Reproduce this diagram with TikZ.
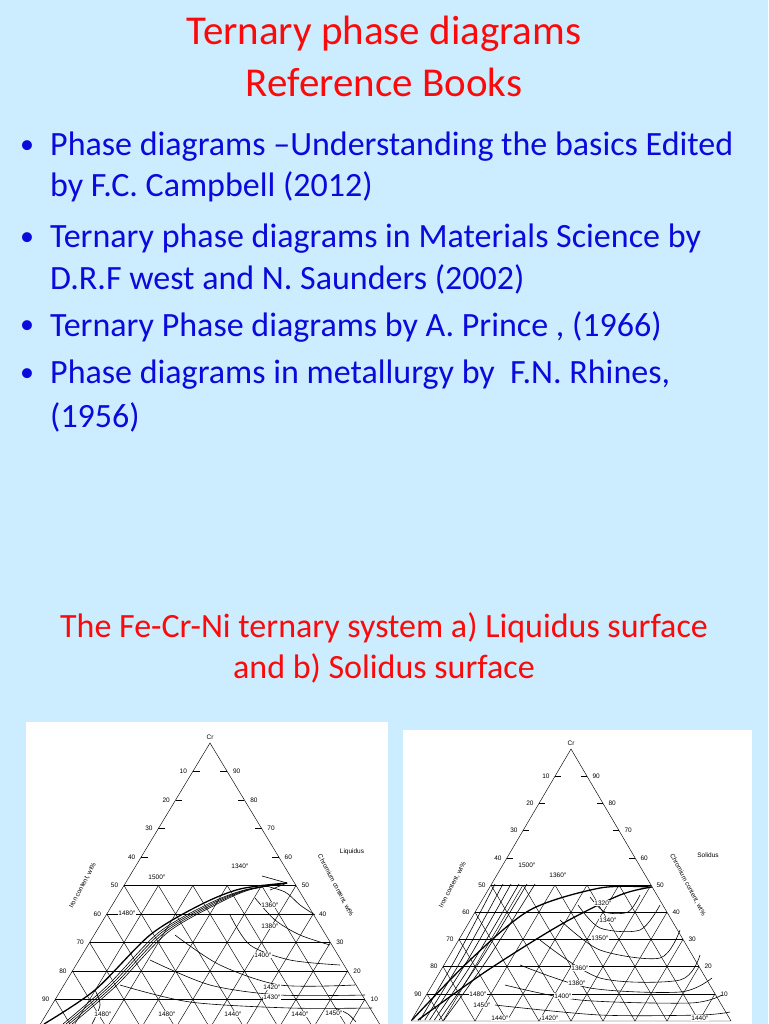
\documentclass[tikz,border=0pt]{standalone}
\usepackage{fontspec}
\setmainfont{Carlito}
\newfontfamily\lab{Liberation Sans}
\definecolor{bg}{RGB}{204,236,255}
\definecolor{tred}{RGB}{250,10,10}
\definecolor{tblue}{RGB}{10,10,220}
\tikzset{
 ttl/.style={text=tred,font=\fontsize{41}{48}\selectfont,anchor=center},
 captext/.style={text=tred,font=\fontsize{34}{40}\selectfont,anchor=center},
 bul/.style={text=tblue,font=\fontsize{34}{40}\selectfont,anchor=west,inner sep=0},
 tl/.style={font=\lab\fontsize{6.5}{7}\selectfont,inner sep=0.5pt},
 grid/.style={line width=0.45pt},
 curve/.style={line width=0.6pt},
 thick curve/.style={line width=1.3pt}
}
\newcommand{\ternary}[5]{% shift x,y ; half width ; height ; tag
\begin{scope}[shift={(#1,#2)},x={(#3pt,0)},y={(0,-#4pt)}]
 \draw[grid] (0,0) -- (-1,1) -- (1,1) -- cycle;
 \foreach \t in {0.5,0.6,0.7,0.8,0.9} \draw[grid] (-\t,\t) -- (\t,\t);
 \begin{scope}
  \clip (-0.5,0.5) -- (0.5,0.5) -- (1,1) -- (-1,1) -- cycle;
  \foreach \b in {-0.8,-0.6,...,0.81} {
   \draw[grid] (\b,1) -- ({\b+(1-\b)/2},{1-(1-\b)/2});
   \draw[grid] (\b,1) -- ({\b-(1+\b)/2},{1-(1+\b)/2});
  }
 \end{scope}
 \foreach \k in {1,...,9} {
  \pgfmathsetmacro{\t}{\k/10}
  \pgfmathtruncatemacro{\r}{100-10*\k}
  \ifnum\k<5
  \draw[grid] (-\t,\t) -- ++(0.04,0);
  \draw[grid] (\t,\t) -- ++(-0.04,0);
  \fi
  \node[tl,anchor=east] at ({-\t-0.03},\t) {\pgfmathtruncatemacro{\l}{10*\k}\l};
  \node[tl,anchor=west] at ({\t+0.03},\t) {\r};
 }
 \node[tl,anchor=south] (#5cr) at (0,-0.01) {Cr};
 \node[tl,rotate=62] (#5fe) at (-0.74,0.5) {Iron content, wt\%};
 \node[tl,rotate=-62] (#5ch) at (0.73,0.5) {Chromium content, wt\%};
\end{scope}}
\begin{document}
\begin{tikzpicture}[x=1pt,y=-1pt]
\fill[bg] (0,0) rectangle (768,1024);
\useasboundingbox (0,0) rectangle (768,1024);
\node[ttl] (t1) at (384,34) {Ternary phase diagrams};
\node[ttl] (t2) at (384,82) {Reference Books};
\foreach \y/\txt/\b in {147/{Phase diagrams –Understanding the basics Edited}/1,
 187/{by F.C. Campbell (2012)}/0,
 239/{Ternary phase diagrams in Materials Science by}/1,
 279/{D.R.F west and N. Saunders (2002)}/0,
 327/{Ternary Phase diagrams by A. Prince , (1966)}/1,
 375/{Phase diagrams in metallurgy by \ F.N. Rhines,}/1,
 417/{(1956)}/0}{
 \node[bul] at (50,\y) {\txt};
 \ifnum\b=1 \node[bul,font=\fontsize{28}{32}\selectfont] at (20,\y) {•};\fi
}
\node[captext] (c1) at (384,628) {The Fe-Cr-Ni ternary system a) Liquidus surface};
\node[captext] (c2) at (384,668) {and b) Solidus surface};
% white panels
\fill[white] (26,722) rectangle (388,1024);
\fill[white] (403,730) rectangle (752,1024);
\ternary{210}{743}{172}{285}{L}
\ternary{571}{749}{160}{272}{R}
% left curves
\draw[thick curve] plot[smooth] coordinates {(44,1024) (95,990) (150,935) (200,905) (240,889) (287,883)};
\foreach \d in {3,6,9,12}
 \draw[curve] plot[smooth] coordinates {({60+\d},1024) ({105+\d},985) ({155+\d},933) ({205+\d},904) ({243+\d*0.5},890) (287,883)};
\draw[curve] (287,883) -- (262,876) (287,883) -- (270,890);
\draw[curve] plot[smooth] coordinates {(262,885) (285,892) (300,905) (315,915)};
\draw[curve] plot[smooth] coordinates {(255,898) (275,920) (300,935) (330,945)};
\draw[curve] plot[smooth] coordinates {(230,915) (250,945) (290,960) (340,965)};
\draw[curve] plot[smooth] coordinates {(175,935) (220,965) (280,985) (355,985)};
\draw[curve] plot[smooth] coordinates {(150,960) (210,985) (280,995) (365,995)};
\draw[curve] plot[smooth] coordinates {(120,985) (190,1002) (290,1008) (372,1008)};
\draw[curve] plot[smooth] coordinates {(335,1008) (348,1014) (356,1022)};
\draw[curve] plot[smooth] coordinates {(92,1024) (100,1005) (95,990)};
\foreach \p/\t in {{(240,866)}/1340°,{(157,877)}/1500°,{(127,913)}/1480°,{(270,905)}/1360°,{(270,926)}/1380°,{(263,955)}/1400°,{(272,987)}/1420°,{(272,997)}/1430°,{(103,1014)}/1480°,{(167,1014)}/1480°,{(233,1014)}/1440°,{(300,1014)}/1440°,{(334,1013)}/1450°}
 \node[tl,fill=white] at \p {\t};
\node[tl] (liq) at (352,852) {Liquidus};
% right curves
\draw[thick curve] plot[smooth] coordinates {(412,1020) (470,960) (530,910) (600,888) (650,887)};
\draw[thick curve] plot[smooth] coordinates {(418,1020) (485,972) (560,925) (620,895) (652,887)};
\foreach \d in {0,8,16,24,32,40}
 \draw[curve] plot[smooth] coordinates {({420+\d*0.6},1020) ({455+\d*0.8},960) ({495+\d},884)};
\draw[curve] plot[smooth] coordinates {(590,897) (605,912) (628,912) (640,895)};
\draw[curve] plot[smooth] coordinates {(578,905) (600,928) (640,930) (660,905)};
\draw[curve] plot[smooth] coordinates {(560,920) (600,950) (660,958) (680,930)};
\draw[curve] plot[smooth] coordinates {(540,940) (600,978) (680,980) (700,955)};
\draw[curve] plot[smooth] coordinates {(520,965) (590,988) (680,992) (712,978)};
\draw[curve] plot[smooth] coordinates {(505,985) (580,1000) (690,1003) (722,995)};
\draw[curve] plot[smooth] coordinates {(495,1005) (600,1015) (700,1015) (730,1012)};
\foreach \p/\t in {{(527,865)}/1500°,{(558,875)}/1360°,{(603,903)}/1320°,{(608,920)}/1340°,{(600,938)}/1350°,{(580,968)}/1360°,{(577,983)}/1380°,{(563,996)}/1400°,{(478,994)}/1480°,{(482,1005)}/1450°,{(500,1018)}/1440°,{(550,1018)}/1420°,{(700,1018)}/1440°}
 \node[tl,fill=white] at \p {\t};
\node[tl] (sol) at (708,855) {Solidus};
\end{tikzpicture}
\end{document}
